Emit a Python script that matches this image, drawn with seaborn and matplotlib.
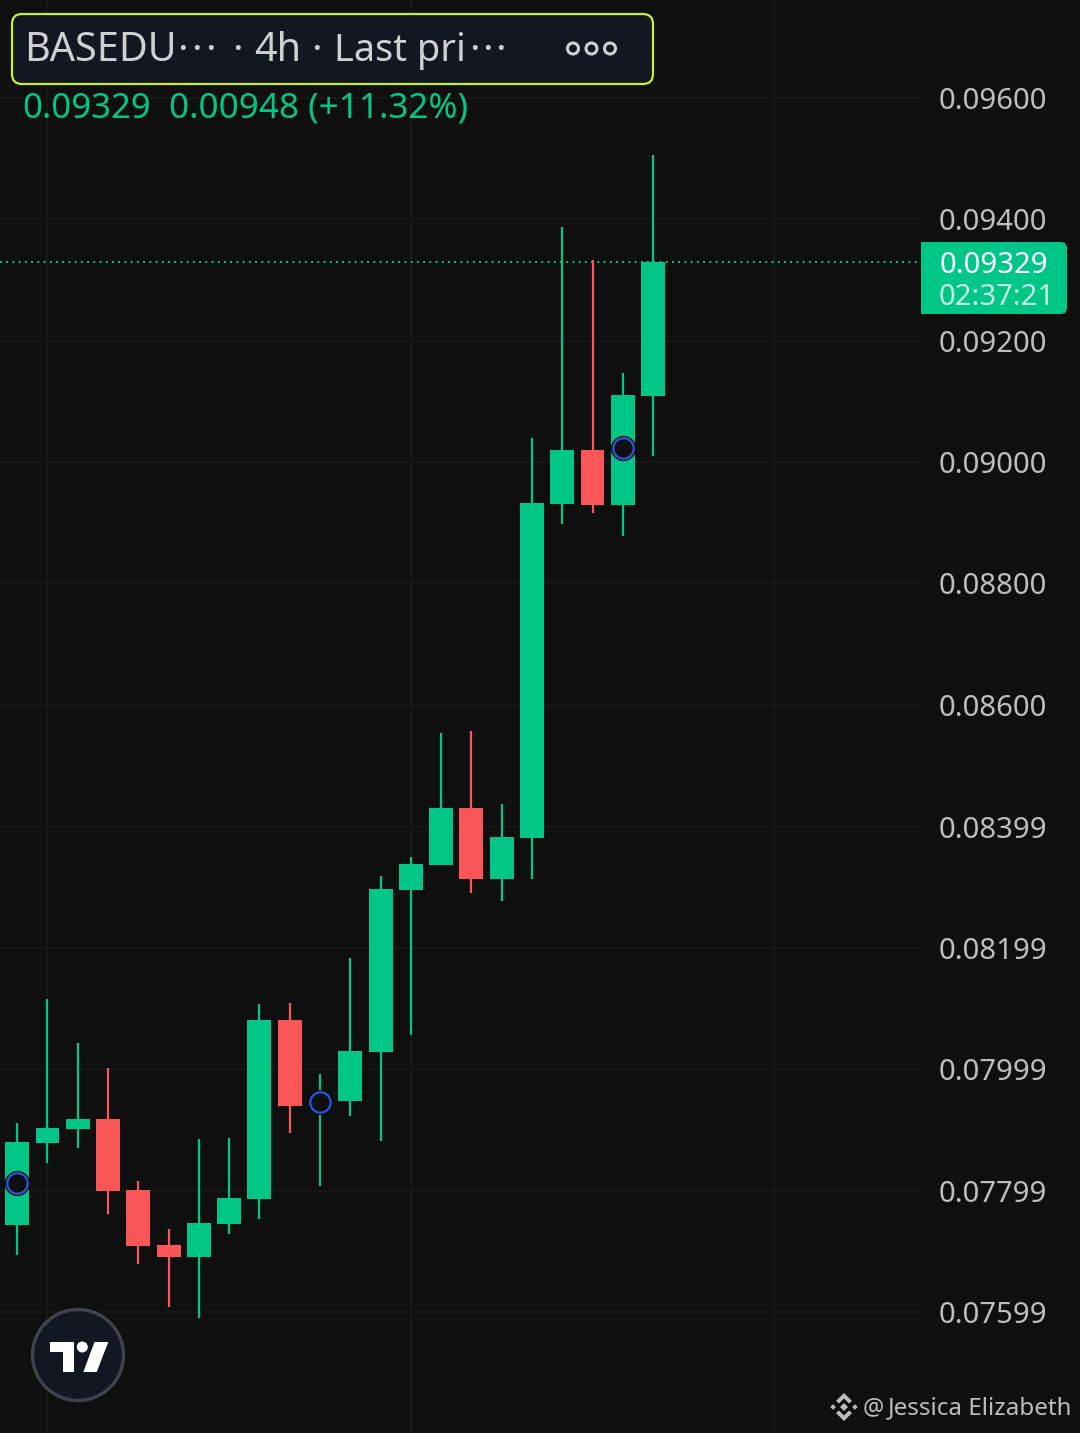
import numpy as np
import pandas as pd
import matplotlib
matplotlib.use("Agg")
import matplotlib.pyplot as plt
from matplotlib.patches import FancyBboxPatch, Polygon, Circle
import seaborn as sns

opens  = [0.077424,0.078775,0.079006,0.079171,0.078000,0.077094,0.076896,0.077440,0.077852,0.080803,0.079385,0.079468,0.080275,0.082945,0.083358,0.084297,0.083127,0.083803,0.089308,0.090198,0.089291,0.091088]
closes = [0.078792,0.079023,0.079171,0.077984,0.077078,0.076896,0.077457,0.077869,0.080803,0.079385,0.079468,0.080292,0.082962,0.083374,0.084297,0.083127,0.083819,0.089324,0.090198,0.089291,0.091105,0.093290]
highs  = [0.079105,0.081149,0.080424,0.080011,0.078149,0.077358,0.078841,0.078858,0.081066,0.081083,0.079913,0.081825,0.083176,0.083489,0.085533,0.085566,0.084363,0.090396,0.093874,0.093330,0.091467,0.095060]
lows   = [0.076929,0.078446,0.078693,0.077605,0.076781,0.076072,0.075891,0.077275,0.077523,0.078940,0.078066,0.079220,0.078808,0.080555,0.083358,0.082896,0.082764,0.083127,0.088978,0.089160,0.088780,0.090099]
marker_idx = [0, 10, 20]
marker_price = [0.078116, 0.079451, 0.090231]
tick_values = [0.09600,0.09400,0.09200,0.09000,0.08800,0.08600,0.08399,0.08199,0.07999,0.07799,0.07599]
tick_labels = ["0.09600","0.09400","0.09200","0.09000","0.08800","0.08600","0.08399","0.08199","0.07999","0.07799","0.07599"]
last_price = 0.09329
grid_x = [1, 13, 25]

BG = "#0f0f0f"; GREEN = "#00c787"; RED = "#f95757"; GRID = "#181818"; PANEL = "#131722"
TXT = "#bcbec1"

sns.set_theme(style="dark")
plt.rcParams["font.family"] = ["Noto Sans", "DejaVu Sans"]

fig = plt.figure(figsize=(10.8, 14.33), dpi=100, facecolor=BG)
ax = fig.add_axes([0, 0, 920/1080, 1], facecolor=BG)

df = pd.DataFrame({"idx": range(len(opens)), "open": opens, "close": closes, "high": highs, "low": lows})
df["bottom"] = df[["open", "close"]].min(axis=1)
df["height"] = (df["close"] - df["open"]).abs()
df["up"] = df["close"] >= df["open"]

wicks = df.melt(id_vars=["idx", "up"], value_vars=["high", "low"], value_name="price")
sns.lineplot(data=wicks, x="idx", y="price", units="idx", estimator=None, hue="up",
             palette={True: GREEN, False: RED}, linewidth=1.6, legend=False, ax=ax,
             solid_capstyle="butt", zorder=3)
n0 = len(ax.patches)
sns.barplot(data=df, x="idx", y="height", bottom=df["bottom"].values, width=0.79,
            errorbar=None, color=GREEN, ax=ax, zorder=4, linewidth=0, saturation=1)
for patch, up in zip(ax.patches[n0:], df["up"]):
    patch.set_facecolor(GREEN if up else RED)
    patch.set_edgecolor("none")

sns.scatterplot(x=marker_idx, y=marker_price, s=330, color="#0a0a0a", linewidth=0, ax=ax, zorder=5)
sns.scatterplot(x=marker_idx, y=marker_price, s=215, color=BG, edgecolor="#2458e0", linewidth=1.6, ax=ax, zorder=6)

ax.axhline(last_price, color=GREEN, lw=1.4, ls=(0, (1, 2.2)), zorder=2)

ax.set_xlim(-17.2/30.28, (920-17.2)/30.28)
ax.set_ylim(0.096 - (1433-98)/60670, 0.096 + 98/60670)
ax.set_xticks(grid_x); ax.set_xticklabels([])
ax.set_yticks(tick_values); ax.set_yticklabels(tick_labels)
ax.yaxis.tick_right()
ax.tick_params(axis="y", length=0, pad=13.6, labelsize=21.1, labelcolor=TXT)
ax.tick_params(axis="x", length=0)
ax.set_xlabel(""); ax.set_ylabel("")
ax.grid(True, color=GRID, lw=1.4)
ax.set_axisbelow(True)
for s in ax.spines.values():
    s.set_visible(False)

# Overlay in pixel coordinates for the interface furniture
ov = fig.add_axes([0, 0, 1, 1], zorder=10)
ov.set_xlim(0, 1080); ov.set_ylim(1433, 0); ov.axis("off"); ov.patch.set_alpha(0)

ov.add_patch(FancyBboxPatch((12+10, 14+10), 641-20, 70-20, boxstyle="round,pad=10,rounding_size=10",
                            fc=PANEL, ec="#c6f030", lw=1.6))
H = dict(color="#cfd0d2", va="center", fontweight="light")
ov.text(24, 51, "BASEDU", ha="left", fontsize=28.5, **H)
ov.text(254, 51, "4h", ha="left", fontsize=28.5, **H)
ov.text(334, 51, "Last pri", ha="left", fontsize=27.3, **H)
for x in [182, 196, 210, 237, 316.5, 474, 487, 500]:
    ov.text(x, 51, "·", ha="center", fontsize=28.5, **H)
for x in [573, 591.5, 610]:
    ov.add_patch(Circle((x, 48.5), 5.5, fc="none", ec="#cfd0d2", lw=2.2))

ov.text(22.5, 108.5, "0.09329", color=GREEN, fontsize=25, va="center", ha="left")
ov.text(169, 108.5, "0.00948 (+11.32%)", color=GREEN, fontsize=25.2, va="center", ha="left")

# Last-price tag
ov.add_patch(Polygon([(921,242),(1061,242),(1065,243),(1067,247),(1067,309),(1065,313),(1061,314),(921,314)],
                     closed=True, fc=GREEN, ec="none"))
ov.text(994, 265, "0.09329", color="white", fontsize=21.1, va="center", ha="center")
ov.text(997, 297, "02:37:21", color="#c4f1e0", fontsize=21.1, va="center", ha="center")

# TradingView badge
ov.add_patch(Circle((78, 1355), 45.5, fc=PANEL, ec="#3f444c", lw=2.4))
ov.add_patch(Polygon([(50,1342),(74,1342),(74,1372),(63.3,1372),(63.3,1352),(50,1352)], fc="white", ec="none"))
ov.add_patch(Circle((82.3, 1347), 5.5, fc="white", ec="none"))
ov.add_patch(Polygon([(94.5,1342),(108.3,1342),(96.7,1372),(83.3,1372)], fc="white", ec="none"))

# Watermark
W = "#bdbdbd"
cx, cy = 844, 1407
def dia(x, y, r):
    ov.add_patch(Polygon([(x-r,y),(x,y-r),(x+r,y),(x,y+r)], fc=W, ec="none"))
dia(cx, cy, 4); dia(cx-11, cy, 2.8); dia(cx+11, cy, 2.8)
ov.add_patch(Polygon([(cx,cy-14),(cx+8,cy-6),(cx+5,cy-3.5),(cx,cy-8.5),(cx-5,cy-3.5),(cx-8,cy-6)], fc=W, ec="none"))
ov.add_patch(Polygon([(cx,cy+14),(cx+8,cy+6),(cx+5,cy+3.5),(cx,cy+8.5),(cx-5,cy+3.5),(cx-8,cy+6)], fc=W, ec="none"))
ov.text(863, 1408.5, "@", color=W, fontsize=17, va="center", ha="left")
ov.text(888, 1408.5, "Jessica Elizabeth", color=W, fontsize=17.4, va="center", ha="left")

fig.savefig("out.png", dpi=100, facecolor=BG)
